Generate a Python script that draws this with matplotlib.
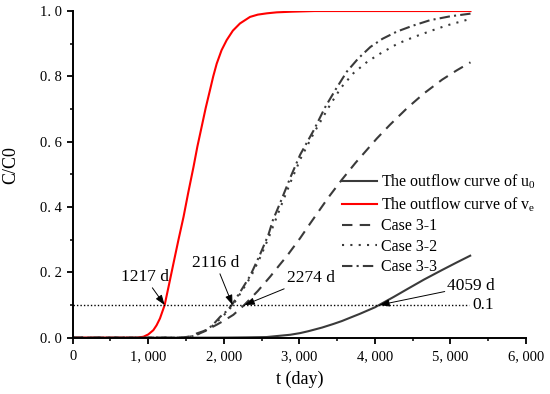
import numpy as np
import matplotlib
matplotlib.use("Agg")
import matplotlib.pyplot as plt
from matplotlib.ticker import MultipleLocator

plt.rcParams['font.family'] = ['Liberation Serif', 'DejaVu Serif']
plt.rcParams['mathtext.fontset'] = 'custom'
plt.rcParams['mathtext.rm'] = 'Liberation Serif'
plt.rcParams['mathtext.it'] = 'Liberation Serif:italic'

# ---- data ----
t_ve = [0, 850, 937, 1000, 1067, 1110, 1155, 1217, 1275, 1334, 1400, 1467, 1530, 1599, 1650,
        1707, 1760, 1817, 1860, 1906, 1970, 2038, 2120, 2214, 2347, 2450, 2571, 2700, 2900,
        3200, 5265]
c_ve = [0, 0, 0.003, 0.01, 0.023, 0.038, 0.059, 0.1, 0.163, 0.228, 0.30, 0.37, 0.445, 0.523,
        0.585, 0.646, 0.703, 0.758, 0.80, 0.839, 0.88, 0.911, 0.94, 0.962, 0.982, 0.989,
        0.993, 0.996, 0.998, 1.0, 1.0]

t_u0 = [0, 1500, 2000, 2300, 2567, 2700, 2879, 3009, 3121, 3300, 3450, 3563, 3670, 3800,
        4000, 4250, 4445, 4650, 4887, 5080, 5261]
c_u0 = [0, 0, 0.0003, 0.001, 0.002, 0.005, 0.009, 0.014, 0.02, 0.031, 0.042, 0.051, 0.061,
        0.073, 0.093, 0.125, 0.151, 0.178, 0.207, 0.23, 0.251]

t_31 = [0, 1450, 1550, 1642, 1730, 1817, 1908, 2000, 2126, 2270, 2450, 2614, 2746, 2835,
        3011, 3144, 3386, 3560, 3742, 4026, 4200, 4427, 4650, 4890, 5080, 5265]
c_31 = [0, 0, 0.004, 0.013, 0.02, 0.029, 0.04, 0.052, 0.07, 0.1, 0.143, 0.187, 0.225, 0.25,
        0.305, 0.35, 0.43, 0.483, 0.535, 0.61, 0.652, 0.703, 0.748, 0.79, 0.818, 0.843]

t_32 = [0, 1460, 1600, 1750, 1850, 1960, 2040, 2120, 2240, 2360, 2490, 2600, 2760, 2890,
        3020, 3200, 3400, 3550, 3717, 3900, 4072, 4300, 4511, 4750, 4953, 5265]
c_32 = [0, 0, 0.005, 0.02, 0.036, 0.06, 0.078, 0.1, 0.143, 0.188, 0.25, 0.31, 0.405, 0.48,
        0.55, 0.63, 0.71, 0.765, 0.81, 0.845, 0.87, 0.9, 0.92, 0.94, 0.956, 0.976]

t_33 = [0, 1460, 1600, 1750, 1850, 1952, 2030, 2107, 2230, 2350, 2480, 2590, 2650, 2750,
        2880, 3010, 3190, 3340, 3480, 3630, 3780, 3940, 4100, 4290, 4500, 4730, 5000, 5265]
c_33 = [0, 0, 0.005, 0.02, 0.038, 0.064, 0.08, 0.1, 0.145, 0.19, 0.255, 0.315, 0.36, 0.415,
        0.49, 0.56, 0.635, 0.705, 0.76, 0.815, 0.855, 0.89, 0.915, 0.937, 0.955, 0.972,
        0.984, 0.992]

threshold = 0.1
t_threshold = [0, 5240]
bt_times = [1217, 2116, 2274, 4059]
bt_labels = ['1217 d', '2116 d', '2274 d', '4059 d']

x_ticks = [0, 1000, 2000, 3000, 4000, 5000, 6000]
y_ticks = [0.0, 0.2, 0.4, 0.6, 0.8, 1.0]
x_ticklabels = [f"{v:,}".replace(',', ', ') for v in x_ticks]
y_ticklabels = [f"{v:.1f}".replace('.', '. ') for v in y_ticks]

gray = '#3a3a3a'

fig = plt.figure(figsize=(5.5, 3.94), dpi=100)
ax = fig.add_axes([0.1322, 0.1429, 0.8242, 0.8291])

ax.plot(t_u0, c_u0, color=gray, lw=1.5, label='The outflow curve of u$_0$')
ax.plot(t_ve, c_ve, color='red', lw=1.5, label='The outflow curve of v$_\\mathrm{e}$')
ax.plot(t_31, c_31, color=gray, lw=1.5, dashes=(5, 3.5), label='Case 3-1')
ax.plot(t_32, c_32, color=gray, lw=1.5, dashes=(1, 3), label='Case 3-2')
ax.plot(t_33, c_33, color=gray, lw=1.5, dashes=(5, 2, 1, 2), label='Case 3-3')
ax.plot(t_threshold, [threshold, threshold], color='black', lw=1.0, dashes=(1, 1.5))
ax.text(5285, threshold, '0.1', fontsize=12.5, va='center', ha='left')

offsets = [(-20, 28), (-17, 42), (66, 27), (92, 19)]
for t, lab, off in zip(bt_times, bt_labels, offsets):
    ax.annotate(lab, xy=(t, threshold), xytext=off, textcoords='offset pixels',
                fontsize=12.5, ha='center', va='center',
                arrowprops=dict(arrowstyle='-|>,head_length=0.5,head_width=0.18',
                                mutation_scale=12, lw=0.7, color='black',
                                shrinkA=0, shrinkB=0))

ax.set_xlim(0, 6000)
ax.set_ylim(0, 1.0)
ax.set_xticks(x_ticks)
ax.set_xticklabels(x_ticklabels)
ax.set_yticks(y_ticks)
ax.set_yticklabels(y_ticklabels)
ax.xaxis.set_minor_locator(MultipleLocator(500))
ax.yaxis.set_minor_locator(MultipleLocator(0.1))
ax.tick_params(which='major', direction='out', length=4, width=1.3, labelsize=10.5, pad=4)
ax.tick_params(which='minor', direction='out', length=2.5, width=1.1)
ax.tick_params(axis='x', which='major', pad=5)
for s in ['top', 'right']:
    ax.spines[s].set_visible(False)
for s in ['left', 'bottom']:
    ax.spines[s].set_linewidth(1.4)

ax.set_xlabel('t (day)', fontsize=13, va='center')
ax.xaxis.set_label_coords(0.5, -0.128)
ax.set_ylabel('C/C0', fontsize=13, va='center')
ax.yaxis.set_label_coords(-0.136, 0.529)

ax.legend(loc='upper left', bbox_to_anchor=(0.593, 0.505), frameon=False, fontsize=11.5,
          borderaxespad=0, borderpad=0, handlelength=2.2, handletextpad=0.3,
          labelspacing=0.28)

fig.savefig('out.png', dpi=100)
